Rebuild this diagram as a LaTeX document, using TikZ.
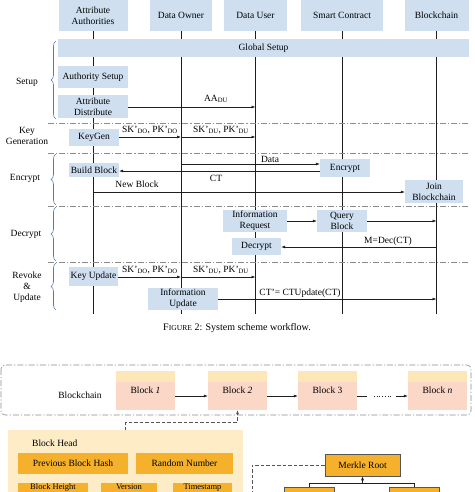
\documentclass[tikz,border=0pt]{standalone}
\usepackage{fontspec}
\setmainfont{Liberation Serif}
\usetikzlibrary{arrows.meta,decorations.pathreplacing}
\definecolor{boxblue}{HTML}{CFDFF0}
\definecolor{sepgray}{HTML}{8C8C8C}
\definecolor{bracecol}{HTML}{4A7EB5}
\definecolor{headbg}{HTML}{FDECC6}
\definecolor{orangebox}{HTML}{F6B12C}
\definecolor{blockpink}{HTML}{FBD7C8}
\definecolor{blocktop}{HTML}{FDE7B8}
\definecolor{linecol}{HTML}{1E1E1E}
\definecolor{dashcol}{HTML}{555555}
\begin{document}
\begin{tikzpicture}[x=1pt,y=-1pt,
  font=\fontsize{9.5}{11}\selectfont,
  box/.style={fill=boxblue, align=center, inner sep=0pt},
  life/.style={draw=linecol, line width=0.7pt},
  msg/.style={draw=linecol, line width=0.6pt, -{Latex[length=4pt,width=3pt]}},
  sepline/.style={draw=sepgray, line width=0.6pt, dash pattern=on 6pt off 2pt on 1.2pt off 2pt},
  brc/.style={draw=bracecol, line width=0.6pt, decorate, decoration={brace, amplitude=5pt}},
  lbl/.style={inner sep=0pt, align=center},
  blk/.style={fill=blockpink, inner sep=0pt, minimum width=59pt, minimum height=39pt,
    path picture={\fill[blocktop] (path picture bounding box.north west) rectangle ([yshift=-11pt]path picture bounding box.north east);}},
  obox/.style={fill=orangebox, inner sep=0pt},
  mbox/.style={fill=orangebox, draw=dashcol, line width=0.6pt, inner sep=0pt},
  dsh/.style={draw=dashcol, line width=0.6pt, dash pattern=on 3.5pt off 2pt},
  rowtxt/.style={inner sep=0pt, anchor=base, font=\fontsize{8.5}{10}\selectfont}
]
\clip (0,0) rectangle (474,492);
\fill[white] (0,0) rectangle (474,492);
\coordinate (lend) at (0,314);

% headers
\node[box, minimum width=69pt, minimum height=31pt] (hAA) at (93,15.5) {Attribute\\Authorities};
\node[box, minimum width=62pt, minimum height=31pt] (hDO) at (181,15.5) {Data Owner};
\node[box, minimum width=63pt, minimum height=31pt] (hDU) at (255.5,15.5) {Data User};
\node[box, minimum width=82pt, minimum height=31pt] (hSC) at (342,15.5) {Smart Contract};
\node[box, minimum width=64pt, minimum height=31pt] (hBC) at (436.5,15.5) {Blockchain};

% lifelines
\draw[life] (hAA.south) -- (hAA.south |- lend);
\draw[life] (hDO.south) -- (hDO.south |- lend);
\draw[life] (hDU.south) -- (hDU.south |- lend);
\draw[life] (hSC.south) -- (hSC.south |- lend);
\draw[life] (hBC.south) -- (hBC.south |- lend);

% separators
\draw[sepline] (48,123) -- (470,123);
\draw[sepline] (48,153) -- (470,153);
\draw[sepline] (48,206) -- (470,206);
\draw[sepline] (48,262) -- (470,262);

% braces
\draw[brc] (56,119) -- (56,41);
\draw[brc] (56,205) -- (56,154);
\draw[brc] (56,261) -- (56,207);
\draw[brc] (56,310) -- (56,263);

% phase labels
\node[lbl] (pSetup) at (27,82) {Setup};
\node[lbl] (pKey) at (27,136) {Key\\Generation};
\node[lbl] (pEnc) at (25,178) {Encrypt};
\node[lbl] (pDec) at (26,234) {Decrypt};
\node[lbl] (pRev) at (27,287) {Revoke\\\&\\Update};

% setup
\node[box, minimum width=411pt, minimum height=18pt] (gs) at (263.5,48) {Global Setup};
\node[box, minimum width=70pt, minimum height=22pt] (as) at (93,77) {Authority Setup};
\node[box, minimum width=70pt, minimum height=23pt] (ad) at (93,106.5) {Attribute\\Distribute};
\draw[msg] (ad.east |- 0,107) -- (hDU.south |- 0,107);
\node[lbl] (lAA) at (216,99) {AA\textsubscript{DU}};

% key generation
\node[box, minimum width=50pt, minimum height=17pt] (kg) at (94,137.5) {KeyGen};
\draw[msg] (kg.east |- 0,137) -- (hDO.south |- 0,137);
\draw[msg] (hDO.south |- 0,137) -- (hDU.south |- 0,137);
\node[lbl] (lk1) at (150,130) {SK’\textsubscript{DO}, PK’\textsubscript{DO}};
\node[lbl] (lk2) at (221,130) {SK’\textsubscript{DU}, PK’\textsubscript{DU}};

% encrypt
\node[box, minimum width=50pt, minimum height=14.5pt] (bb) at (94,170) {Build Block};
\node[box, minimum width=50pt, minimum height=18pt] (enc) at (345,168) {Encrypt};
\node[box, minimum width=58pt, minimum height=23pt] (jb) at (434,191.5) {Join\\Blockchain};
\draw[msg] (hDO.south |- 0,164) -- (enc.west |- 0,164);
\node[lbl] (lData) at (270,159) {Data};
\draw[msg] (enc.west |- 0,171) -- (bb.east |- 0,171);
\node[lbl] (lCT) at (216,178) {CT};
\draw[msg] (hAA.south |- 0,192) -- (jb.west |- 0,192);
\node[lbl] (lNB) at (137,184.5) {New Block};

% decrypt
\node[box, minimum width=64pt, minimum height=22pt] (ir) at (255,221) {Information\\Request};
\node[box, minimum width=50pt, minimum height=22pt] (qb) at (342,221) {Query\\Block};
\node[box, minimum width=49pt, minimum height=17pt] (dec) at (256.5,246.5) {Decrypt};
\draw[msg] (ir.east) -- (qb.west);
\draw[msg] (qb.east) -- (hBC.south |- qb.east);
\draw[msg] (hBC.south |- 0,247) -- (dec.east |- 0,247);
\node[lbl] (lM) at (388,241) {M=Dec(CT)};

% revoke & update
\node[box, minimum width=49pt, minimum height=19pt] (ku) at (93.5,276.5) {Key Update};
\node[box, minimum width=70pt, minimum height=22pt] (iu) at (183,299) {Information\\Update};
\draw[msg] (ku.east |- 0,277) -- (hDO.south |- 0,277);
\draw[msg] (hDO.south |- 0,277) -- (hDU.south |- 0,277);
\node[lbl] (lk3) at (150,270) {SK’\textsubscript{DO}, PK’\textsubscript{DO}};
\node[lbl] (lk4) at (221,270) {SK’\textsubscript{DU}, PK’\textsubscript{DU}};
\draw[msg] (iu.east) -- (hBC.south |- iu.east);
\node[lbl] (lCTu) at (300,293) {CT’= CTUpdate(CT)};

% caption
\node[lbl] (cap) at (237,328) {\fontsize{10}{12}\selectfont F\fontsize{7.6}{9}\selectfont IGURE\fontsize{10}{12}\selectfont\ 2: System scheme workflow.};

% blockchain
\draw[sepline, rounded corners=4pt] (1,365) rectangle (471,415);
\node[lbl] (bcl) at (80,395) {Blockchain};
\node[blk] (b1) at (145.5,390.5) {\raisebox{-5.5pt}{Block \textit{1}}};
\node[blk] (b2) at (237.5,390.5) {\raisebox{-5.5pt}{Block \textit{2}}};
\node[blk] (b3) at (327.5,390.5) {\raisebox{-5.5pt}{Block 3}};
\node[blk] (bn) at (437.5,390.5) {\raisebox{-5.5pt}{Block \textit{n}}};
\draw[msg] (b1.east |- 0,396) -- (b2.west |- 0,396);
\draw[msg] (b2.east |- 0,396) -- (b3.west |- 0,396);
\coordinate (g1) at (367,396);
\coordinate (g2) at (396,396);
\draw[draw=linecol, line width=0.6pt] (b3.east |- 0,396) -- (g1);
\draw[draw=linecol, line width=0.7pt, dotted] (374,396) -- (391,396);
\draw[msg] (g2) -- (bn.west |- g2);

% block head
\node[fill=headbg, minimum width=235pt, minimum height=90pt, anchor=north west, inner sep=0pt] (bh) at (8,430) {};
\node[lbl, anchor=west] (bht) at (32,443) {Block Head};
\node[obox, minimum width=110pt, minimum height=21pt] (pbh) at (73,463.5) {Previous Block Hash};
\node[obox, minimum width=97pt, minimum height=21pt] (rn) at (184.5,463.5) {Random Number};
\node[obox, minimum width=70pt, minimum height=21pt] (bhh) at (53,493.5) {};
\node[obox, minimum width=56pt, minimum height=21pt] (ver) at (129,493.5) {};
\node[obox, minimum width=59pt, minimum height=21pt] (tms) at (202.5,493.5) {};
\node[rowtxt] (tbhh) at (53,489.3) {Block Height};
\node[rowtxt] (tver) at (129,489.3) {Version};
\node[rowtxt] (ttms) at (202.5,489.3) {Timestamp};
\draw[dsh, -{Latex[length=4pt,width=3pt]}] (bh.north) |- (b2.south |- 0,422) -- (b2.south);

% merkle
\node[mbox, minimum width=75pt, minimum height=22pt] (mr) at (362.5,465) {Merkle Root};
\node[mbox, minimum width=50pt, minimum height=22pt] (c1) at (309,498) {};
\node[mbox, minimum width=50pt, minimum height=22pt] (c2) at (414,498) {};
\coordinate (tj) at (362.5,483);
\draw[draw=linecol, line width=0.6pt] (c1.north) -- (c1.north |- tj) -- (c2.north |- tj) -- (c2.north);
\draw[msg] (tj) -- (mr.south);
\draw[dsh] (mr.west) -- (252,465) -- (252,500);
\end{tikzpicture}
\end{document}
